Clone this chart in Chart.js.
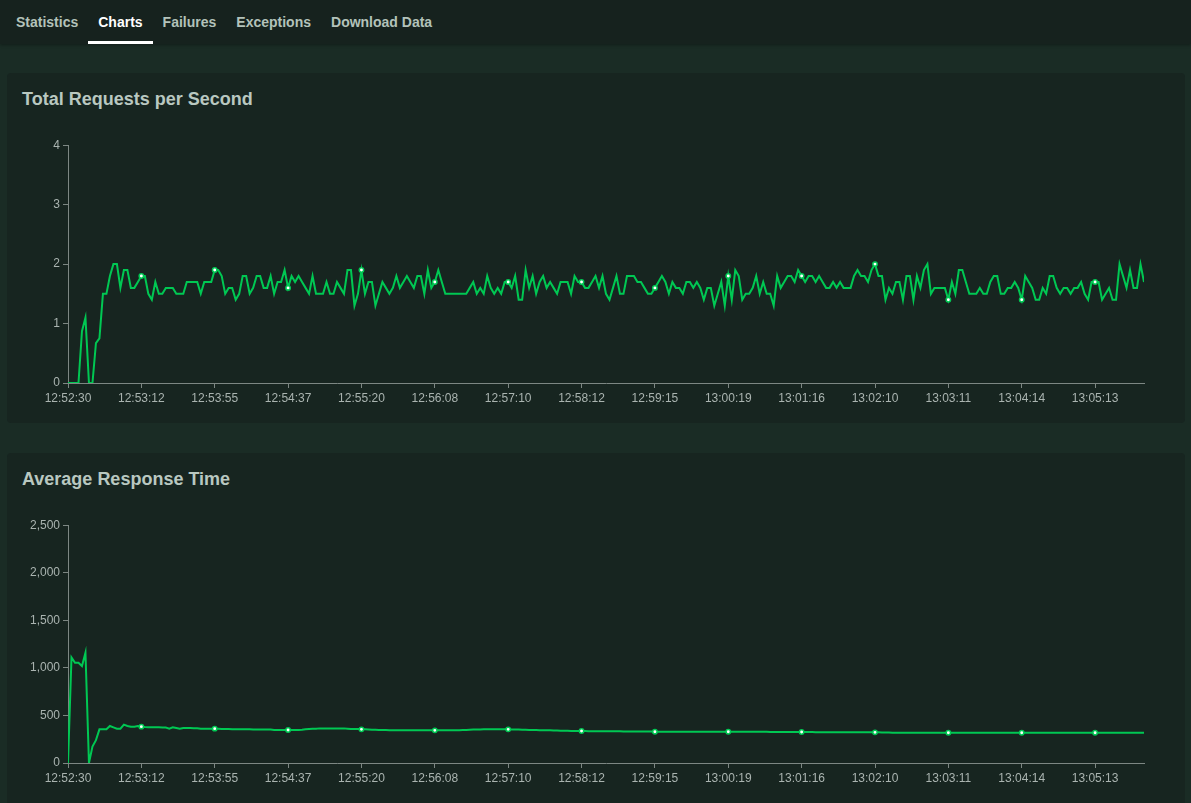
<!DOCTYPE html>
<html>
<head>
<meta charset="utf-8">
<title>Charts</title>
<script src="https://cdn.jsdelivr.net/npm/chart.js@4.4.1/dist/chart.umd.min.js"></script>
<style>
  html, body { margin: 0; padding: 0; }
  body {
    width: 1191px; height: 803px; overflow: hidden; position: relative;
    background: #1a2c25;
    font-family: "Liberation Sans", Arial, Helvetica, sans-serif;
  }
  .nav {
    position: absolute; left: 0; top: 0; width: 1191px; height: 44px;
    background: #16221e; display: flex; padding-left: 6px; box-sizing: border-box;
    box-shadow: 0 1px 3px rgba(0, 0, 0, 0.35);
  }
  .nav .tab {
    position: relative; padding: 0 10px; line-height: 44px;
    font-size: 14px; font-weight: bold; color: #b3c2ba;
  }
  .nav .tab.active { color: #ffffff; }
  .nav .tab.active::after {
    content: ""; position: absolute; left: 0; right: 0; bottom: 0; height: 3px; background: #ffffff;
  }
  .card {
    position: absolute; left: 7px; width: 1178px;
    background: #172520; border-radius: 4px;
  }
  #card1 { top: 73px; height: 350px; }
  #card2 { top: 453px; height: 360px; }
  .card h2 {
    position: absolute; left: 15px; top: 15px; margin: 0;
    font-size: 18px; line-height: 22px; font-weight: bold; color: #b9c8c0;
  }
  .chart { position: absolute; left: 0; top: 62px; width: 1178px; height: 270px; }
</style>
</head>
<body>
<div class="nav">
  <div class="tab">Statistics</div>
  <div class="tab active">Charts</div>
  <div class="tab">Failures</div>
  <div class="tab">Exceptions</div>
  <div class="tab">Download Data</div>
</div>

<div class="card" id="card1">
  <h2>Total Requests per Second</h2>
  <div class="chart"><canvas id="rpsChart"></canvas></div>
</div>

<div class="card" id="card2">
  <h2>Average Response Time</h2>
  <div class="chart"><canvas id="rtChart"></canvas></div>
</div>

<script>
// nhãn thời gian hiện trên trục x (mỗi 21 điểm một nhãn)
const tickLabels = ["12:52:30", "12:53:12", "12:53:55", "12:54:37", "12:55:20", "12:56:08", "12:57:10",
    "12:58:12", "12:59:15", "13:00:19", "13:01:16", "13:02:10", "13:03:11", "13:04:14", "13:05:13"];
const LABEL_STEP = 21;

// requests per second, mỗi dòng = 21 điểm
const rpsValues = [
    0, 0, 0, 0, 0.87, 1.1, 0, 0, 0.67, 0.75, 1.5, 1.5, 1.8, 2, 2, 1.6, 1.9, 1.9, 1.6, 1.6, 1.7,
    1.8, 1.8, 1.5, 1.4, 1.7, 1.5, 1.5, 1.6, 1.6, 1.6, 1.5, 1.5, 1.5, 1.7, 1.7, 1.7, 1.7, 1.5, 1.7, 1.7, 1.7,
    1.9, 1.9, 1.8, 1.5, 1.6, 1.6, 1.4, 1.5, 1.8, 1.8, 1.5, 1.6, 1.8, 1.8, 1.6, 1.6, 1.8, 1.5, 1.7, 1.7, 1.9,
    1.6, 1.8, 1.7, 1.8, 1.7, 1.6, 1.5, 1.8, 1.5, 1.5, 1.5, 1.7, 1.5, 1.5, 1.7, 1.6, 1.5, 1.9, 1.9, 1.3, 1.5,
    1.9, 1.5, 1.7, 1.7, 1.3, 1.5, 1.7, 1.6, 1.5, 1.6, 1.8, 1.6, 1.7, 1.8, 1.7, 1.6, 1.8, 1.8, 1.5, 1.9, 1.6,
    1.7, 1.9, 1.7, 1.5, 1.5, 1.5, 1.5, 1.5, 1.5, 1.5, 1.6, 1.7, 1.5, 1.6, 1.5, 1.8, 1.6, 1.5, 1.6, 1.5, 1.7,
    1.7, 1.6, 1.8, 1.4, 1.4, 1.9, 1.6, 1.8, 1.5, 1.7, 1.8, 1.6, 1.7, 1.6, 1.5, 1.7, 1.7, 1.7, 1.5, 1.8, 1.7,
    1.7, 1.6, 1.6, 1.7, 1.8, 1.6, 1.8, 1.5, 1.4, 1.6, 1.8, 1.5, 1.5, 1.8, 1.8, 1.8, 1.7, 1.7, 1.6, 1.5, 1.5,
    1.6, 1.7, 1.8, 1.7, 1.5, 1.7, 1.6, 1.6, 1.5, 1.7, 1.7, 1.6, 1.7, 1.6, 1.4, 1.6, 1.6, 1.3, 1.5, 1.7, 1.3,
    1.8, 1.4, 1.9, 1.8, 1.4, 1.5, 1.5, 1.6, 1.8, 1.5, 1.7, 1.5, 1.5, 1.3, 1.8, 1.6, 1.7, 1.8, 1.8, 1.7, 1.9,
    1.8, 1.7, 1.8, 1.8, 1.7, 1.8, 1.7, 1.6, 1.6, 1.7, 1.6, 1.7, 1.6, 1.6, 1.6, 1.8, 1.9, 1.8, 1.8, 1.7, 1.9,
    2, 1.8, 1.8, 1.4, 1.6, 1.5, 1.7, 1.7, 1.4, 1.8, 1.8, 1.4, 1.8, 1.6, 1.9, 2, 1.5, 1.6, 1.6, 1.6, 1.6,
    1.4, 1.7, 1.5, 1.9, 1.9, 1.7, 1.5, 1.5, 1.5, 1.6, 1.5, 1.5, 1.7, 1.8, 1.8, 1.5, 1.5, 1.6, 1.6, 1.7, 1.6,
    1.4, 1.8, 1.7, 1.6, 1.4, 1.4, 1.6, 1.5, 1.8, 1.8, 1.6, 1.5, 1.6, 1.6, 1.5, 1.6, 1.6, 1.7, 1.5, 1.4, 1.7,
    1.7, 1.7, 1.4, 1.5, 1.6, 1.4, 1.4, 2, 1.8, 1.6, 1.9, 1.6, 1.6, 2, 1.7
];

// thời gian phản hồi trung bình (ms)
const responseValues = [
    0, 1110, 1054, 1054, 1019, 1159, 0, 172, 240, 354, 354, 354, 389, 375, 361, 361, 403, 389, 382, 382, 389,
    382, 378, 375, 375, 375, 375, 372, 372, 361, 375, 368, 361, 368, 368, 368, 365, 365, 361, 361, 361, 361,
    361, 361, 358, 358, 358, 354, 354, 354, 354, 354, 354, 351, 351, 351, 351, 351, 351, 347, 347, 347, 347,
    347, 347, 347, 347, 350, 354, 358, 361, 361, 364, 364, 364, 364, 364, 364, 364, 364, 361, 358, 358, 357,
    354, 354, 352, 350, 350, 348, 347, 346, 345, 344, 343, 343, 343, 343, 343, 343, 343, 343, 343, 343, 343,
    343, 343, 343, 343, 343, 343, 343, 344, 346, 348, 350, 351, 352, 353, 354, 354, 354, 354, 354, 354, 354,
    354, 353, 352, 351, 350, 349, 348, 347, 346, 345, 344, 343, 343, 342, 341, 340, 339, 338, 337, 337, 336,
    336, 336, 335, 335, 335, 334, 334, 334, 333, 333, 333, 333, 332, 332, 332, 331, 331, 331, 330, 330, 330,
    329, 329, 329, 329, 329, 329, 329, 329, 329, 329, 329, 329, 329, 329, 329, 329, 329, 329, 329, 329, 329,
    329, 329, 329, 329, 329, 329, 329, 328, 328, 328, 328, 328, 327, 327, 327, 327, 327, 326, 326, 326, 326,
    326, 326, 325, 325, 324, 324, 323, 322, 322, 322, 322, 322, 322, 322, 322, 322, 322, 322, 322, 322, 322,
    322, 322, 321, 321, 320, 319, 318, 318, 318, 318, 318, 318, 318, 318, 318, 318, 318, 318, 318, 318, 318,
    318, 318, 318, 318, 318, 318, 318, 318, 317, 317, 317, 317, 317, 317, 317, 318, 318, 318, 318, 318, 318,
    318, 318, 318, 318, 318, 318, 318, 318, 318, 318, 318, 318, 318, 318, 318, 318, 318, 318, 318, 318, 318,
    318, 318, 318, 318, 318, 318, 318, 318, 318, 318, 318, 318, 318, 318, 318
];

const LINE_COLOR = "#00c853";
const AXIS_COLOR = "#7d8783";
const TICK_TEXT = "#aab4b0";

function renderLineChart(canvasId, values, yMax, yStep, yFormat) {
    const ctx = document.getElementById(canvasId);
    new Chart(ctx, {
        type: "line",
        data: {
            datasets: [{
                data: values.map((v, i) => ({ x: i, y: v })),
                borderColor: LINE_COLOR,
                borderWidth: 2,
                tension: 0,
                // chỉ hiện chấm ở các vị trí có nhãn
                pointRadius: c => (c.dataIndex > 0 && c.dataIndex % LABEL_STEP === 0) ? 2.2 : 0,
                pointHoverRadius: 4,
                pointBackgroundColor: "#ffffff",
                pointBorderColor: LINE_COLOR,
                pointBorderWidth: 1.5
            }]
        },
        options: {
            responsive: true,
            maintainAspectRatio: false,
            animation: false,
            layout: { padding: { top: 10, right: 41, bottom: 0, left: 0 } },
            plugins: { legend: { display: false } },
            scales: {
                x: {
                    type: "linear",
                    min: 0,
                    max: values.length - 1,
                    afterBuildTicks: s => { s.ticks = tickLabels.map((_, i) => ({ value: i * LABEL_STEP })); },
                    afterFit: s => { s.height = 22; },
                    ticks: {
                        autoSkip: false, maxRotation: 0, padding: 3,
                        color: TICK_TEXT, font: { size: 12, family: "'Liberation Sans', Arial, sans-serif" },
                        callback: v => tickLabels[Math.round(v / LABEL_STEP)] || ""
                    },
                    grid: { drawOnChartArea: false, color: AXIS_COLOR, tickLength: 5 },
                    border: { color: AXIS_COLOR }
                },
                y: {
                    min: 0,
                    max: yMax,
                    afterFit: s => { s.width = 61; },
                    ticks: {
                        stepSize: yStep, padding: 3,
                        color: TICK_TEXT, font: { size: 12, family: "'Liberation Sans', Arial, sans-serif" },
                        callback: yFormat
                    },
                    grid: { drawOnChartArea: false, color: AXIS_COLOR, tickLength: 5 },
                    border: { color: AXIS_COLOR }
                }
            }
        }
    });
}

renderLineChart("rpsChart", rpsValues, 4, 1, v => v);
renderLineChart("rtChart", responseValues, 2500, 500, v => v.toLocaleString("en-US"));
</script>
</body>
</html>
